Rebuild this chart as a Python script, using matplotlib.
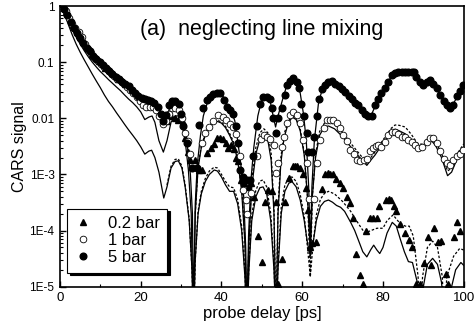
import numpy as np
import matplotlib
matplotlib.use("Agg")
import matplotlib.pyplot as plt
from matplotlib.ticker import FixedLocator, NullFormatter, LogLocator

plt.rcParams['font.family'] = ['Liberation Sans', 'DejaVu Sans']

# measured data: 5 bar (filled circles)
x5 = [1.0, 1.8, 2.6, 3.4, 4.2, 5.0, 5.8, 6.6, 7.4, 8.2, 9.0, 9.8, 10.6, 11.4, 12.2, 13.0, 13.8, 14.6,
      15.4, 16.2, 17.0, 17.8, 18.6, 19.4, 20.2, 21.0, 21.8, 22.6, 23.4, 24.2, 25.0, 25.6, 26.2, 27.0,
      27.8, 28.6, 29.5, 30.0, 30.5, 31.4, 32.6, 33.9, 34.5, 35.3, 36.3, 37.1, 37.9, 38.8, 39.6, 40.5,
      41.3, 42.1, 42.9, 43.7, 44.2, 44.6, 45.4, 46.2, 47.1, 47.9, 48.7, 49.5, 50.4, 51.2, 52.0, 52.4,
      52.8, 53.5, 54.1, 55.0, 55.7, 56.2, 57.0, 57.8, 58.7, 59.3, 59.8, 60.5, 61.1, 61.5, 62.4, 62.8,
      63.6, 64.1, 64.9, 65.7, 66.5, 67.3, 68.2, 69.0, 69.8, 70.6, 71.5, 72.3, 73.1, 73.9, 74.8, 75.6,
      76.4, 77.2, 78.0, 78.8, 79.6, 80.5, 81.3, 82.2, 83.0, 83.8, 84.6, 85.5, 86.3, 87.1, 87.8, 88.3,
      89.2, 90.0, 90.8, 91.6, 92.5, 93.3, 94.1, 95.0, 95.8, 96.6, 97.4, 98.3, 99.1, 99.8]
y5 = [0.9, 0.68, 0.52, 0.41, 0.33, 0.27, 0.22, 0.18, 0.155, 0.13, 0.115, 0.1, 0.088, 0.078, 0.07, 0.062,
      0.055, 0.05, 0.045, 0.041, 0.037, 0.032, 0.028, 0.025, 0.023, 0.022, 0.021, 0.02, 0.019, 0.016,
      0.012, 0.0088, 0.0115, 0.017, 0.02, 0.02, 0.018, 0.012, 0.0073, 0.0037, 0.0013, 0.0013, 0.0076,
      0.015, 0.021, 0.024, 0.027, 0.028, 0.028, 0.021, 0.016, 0.014, 0.012, 0.0073, 0.0037, 0.0012,
      9e-4, 8e-4, 8e-4, 0.0021, 0.0073, 0.018, 0.024, 0.024, 0.022, 0.015, 0.01, 0.0054, 0.01, 0.015,
      0.026, 0.039, 0.047, 0.052, 0.044, 0.034, 0.018, 0.011, 0.0054, 0.0025, 0.0025, 0.0047, 0.011,
      0.022, 0.033, 0.039, 0.044, 0.046, 0.041, 0.037, 0.033, 0.029, 0.025, 0.022, 0.019, 0.017, 0.014,
      0.012, 0.011, 0.011, 0.017, 0.022, 0.028, 0.034, 0.044, 0.058, 0.063, 0.066, 0.066, 0.066, 0.066,
      0.066, 0.068, 0.055, 0.044, 0.039, 0.044, 0.048, 0.041, 0.034, 0.026, 0.02, 0.017, 0.015, 0.017,
      0.025, 0.031, 0.039]

# measured data: 1 bar (open circles)
x1 = [1.4, 2.2, 3.0, 3.8, 4.6, 5.4, 6.2, 7.0, 7.8, 8.6, 9.4, 10.2, 11.0, 11.8, 12.6, 13.4, 14.2, 15.0,
      15.8, 16.6, 17.4, 18.2, 19.0, 19.8, 20.6, 21.4, 22.2, 23.0, 23.8, 24.6, 25.4, 26.2, 27.0, 27.8,
      28.6, 29.4, 30.2, 31.0, 31.8, 32.2, 35.1, 36.0, 36.8, 38.0, 39.1, 40.3, 41.1, 42.0, 42.9, 43.7,
      44.5, 45.4, 46.0, 46.4, 47.4, 48.7, 49.8, 50.5, 51.3, 52.1, 52.9, 53.5, 54.1, 55.0, 55.4, 56.2,
      57.0, 57.8, 58.7, 59.5, 60.3, 61.1, 61.8, 62.8, 63.6, 64.4, 65.3, 66.1, 66.9, 67.7, 68.6, 69.4,
      70.2, 71.0, 71.9, 72.7, 73.6, 74.4, 75.2, 76.0, 76.8, 77.6, 78.3, 78.8, 79.6, 80.5, 81.3, 82.2,
      83.0, 83.8, 84.6, 85.5, 86.3, 87.1, 87.9, 88.8, 89.6, 90.8, 91.6, 92.5, 93.3, 94.1, 95.0, 95.8,
      96.6, 97.4, 98.3, 99.1, 99.8]
y1 = [0.8, 0.6, 0.47, 0.4, 0.34, 0.28, 0.21, 0.17, 0.145, 0.12, 0.105, 0.093, 0.082, 0.072, 0.064,
      0.057, 0.051, 0.046, 0.041, 0.036, 0.032, 0.028, 0.024, 0.02, 0.017, 0.016, 0.016, 0.016, 0.014,
      0.011, 0.008, 0.009, 0.012, 0.015, 0.015, 0.014, 0.01, 0.0055, 0.0039, 0.0023, 0.0036, 0.0054,
      0.007, 0.0091, 0.0114, 0.0106, 0.0093, 0.008, 0.007, 0.0053, 0.0021, 5.3e-4, 3.5e-4, 2e-4, 4.6e-4,
      0.0021, 0.0042, 0.005, 0.0047, 0.0042, 0.0034, 0.00105, 0.0016, 0.0031, 0.0047, 0.0082, 0.0115,
      0.013, 0.0115, 0.0082, 0.0041, 0.0016, 3.7e-4, 3.7e-4, 0.0016, 0.0041, 0.0066, 0.0094, 0.0095,
      0.0094, 0.0082, 0.0066, 0.005, 0.004, 0.0027, 0.0023, 0.0018, 0.0017, 0.0018, 0.0019, 0.0026,
      0.0029, 0.0032, 0.0033, 0.0031, 0.0038, 0.005, 0.0057, 0.0057, 0.0053, 0.0047, 0.0047, 0.0041,
      0.0038, 0.0034, 0.0029, 0.0031, 0.0038, 0.0045, 0.0044, 0.0036, 0.0026, 0.0019, 0.0016, 0.0015,
      0.0018, 0.0021, 0.0023, 0.0027]

# measured data: 0.2 bar (triangles)
x02 = [1.6, 3.2, 4.8, 6.4, 8.0, 9.6, 11.2, 12.8, 14.4, 16.0, 17.6, 19.2, 20.8, 22.4, 24.0, 25.2, 26.4,
       27.4, 28.4, 29.3, 30.4, 31.0, 31.6, 32.2, 33.4, 34.4, 35.2, 36.3, 37.5, 38.2, 38.8, 39.6, 40.4,
       41.1, 41.6, 42.4, 43.0, 43.6, 44.2, 44.8, 45.6, 46.5, 47.3, 48.0, 49.0, 50.0, 50.7, 51.6, 52.4,
       53.6, 54.0, 55.1, 55.7, 56.8, 57.6, 58.2, 58.8, 59.4, 60.1, 61.0, 61.5, 61.9, 62.5, 63.5, 65.0,
       65.6, 66.3, 67.0, 67.7, 68.3, 69.3, 70.2, 71.0, 71.8, 72.6, 73.4, 74.3, 75.1, 75.9, 76.7, 77.5,
       78.4, 79.0, 80.7, 81.4, 82.1, 82.7, 83.3, 84.3, 85.4, 86.5, 87.3, 88.3, 89.1, 90.1, 91.2, 92.0,
       92.7, 93.6, 94.4, 95.7, 96.2, 97.5, 98.3, 99.2]
y02 = [0.78, 0.45, 0.3, 0.2, 0.14, 0.105, 0.08, 0.064, 0.051, 0.041, 0.033, 0.026, 0.021, 0.019, 0.016,
       0.011, 0.009, 0.011, 0.01, 0.0095, 0.0085, 0.0045, 0.0025, 0.0018, 0.0018, 0.0012, 0.0012, 0.0024,
       0.003, 0.0035, 0.0044, 0.0045, 0.0042, 0.0037, 0.003, 0.0033, 0.0028, 0.002, 0.0017, 8e-4, 7e-4,
       6e-4, 7e-4, 4e-4, 8e-5, 2.8e-5, 3.2e-4, 5.3e-4, 5e-4, 3.2e-4, 1.1e-5, 3.1e-5, 3.2e-4, 8.5e-4,
       1.4e-3, 1.4e-3, 1.4e-3, 1.3e-3, 1e-3, 5.7e-4, 2.3e-4, 5.2e-5, 6e-5, 6.3e-5, 5.4e-4, 1e-3, 1.05e-3,
       1e-3, 1e-3, 8.3e-4, 7e-4, 5.8e-4, 4e-4, 3.1e-4, 1.7e-4, 3.9e-5, 1.6e-5, 1.1e-5, 1e-4, 1.7e-4,
       1.7e-4, 1.7e-4, 2.7e-4, 3.5e-4, 3.6e-4, 3.5e-4, 2.7e-4, 2.2e-4, 1.3e-4, 9.2e-5, 6.8e-5, 5e-5,
       1.1e-5, 1.1e-5, 2.6e-5, 7.7e-5, 2.4e-5, 1.1e-4, 6.3e-5, 6.5e-5, 1.7e-5, 1.1e-5, 7.7e-5, 1.4e-4,
       1e-4]

# model curves (solid / dotted)
m5_x = [0, 1, 2, 3, 4, 5, 6, 7, 8, 9, 10, 11, 12, 13, 14, 15, 16, 17, 18, 19, 20, 21, 22, 23, 24, 25,
        25.7, 26.5, 27.5, 28.5, 29.5, 30.5, 31.5, 32.3, 32.8, 33.1, 33.5, 34, 34.8, 35.5, 36.5, 37.5,
        38.5, 39.5, 40.5, 41.5, 42.5, 43.3, 44, 44.8, 45.5, 46, 46.3, 46.7, 47.3, 48, 49, 50, 51, 52,
        52.8, 53.4, 54, 55, 56, 57, 57.8, 58.7, 59.5, 60.3, 61, 61.6, 62, 62.4, 63, 64, 65, 66, 67, 68,
        70, 72, 74, 76, 77, 78, 80, 82, 84, 86, 87.5, 89, 90, 91.5, 93, 94.5, 96, 97, 98.5, 100]
m5_y = [1.0, 0.85, 0.62, 0.46, 0.35, 0.27, 0.21, 0.17, 0.14, 0.115, 0.097, 0.083, 0.071, 0.062, 0.054,
        0.047, 0.041, 0.036, 0.031, 0.027, 0.024, 0.022, 0.021, 0.02, 0.017, 0.012, 0.0085, 0.011, 0.018,
        0.021, 0.019, 0.009, 0.0035, 0.001, 2e-4, 3e-6, 3e-4, 1.5e-3, 5e-3, 0.011, 0.019, 0.025, 0.028,
        0.029, 0.024, 0.017, 0.013, 0.009, 0.004, 0.0015, 4e-4, 5e-5, 3e-6, 8e-5, 8e-4, 3e-3, 0.011,
        0.022, 0.025, 0.021, 0.011, 0.007, 0.011, 0.02, 0.035, 0.048, 0.053, 0.045, 0.028, 0.012, 0.004,
        6e-4, 5e-5, 6e-4, 0.004, 0.018, 0.034, 0.043, 0.046, 0.042, 0.032, 0.023, 0.016, 0.011, 0.011,
        0.016, 0.031, 0.055, 0.065, 0.066, 0.068, 0.046, 0.04, 0.047, 0.035, 0.024, 0.016, 0.016, 0.025,
        0.038]

m1_x = [0, 1, 2, 3, 4, 5, 6, 7, 8, 9, 10, 11, 12, 13, 14, 15, 16, 17, 18, 19, 20, 21, 22, 22.8, 23.5,
        24.5, 25.6, 26.5, 27.5, 28.5, 29.3, 30.2, 31, 31.8, 32.5, 33, 33.5, 34.2, 35, 36, 37, 38, 39, 40,
        41, 42, 43, 44, 45, 45.8, 46.3, 46.8, 47.5, 48.5, 49.5, 50.5, 51.5, 52.3, 53, 53.5, 54, 54.7,
        55.5, 56.5, 57.5, 58.5, 59.5, 60.5, 61.3, 62, 62.5, 63.3, 64.3, 65.5, 66.5, 68, 70, 72, 74, 76,
        77, 78, 80, 82, 83, 84, 85.5, 87, 88.5, 90, 91, 92, 93, 94.5, 96, 97, 98.5, 100]
m1_y = [1.0, 0.8, 0.55, 0.38, 0.28, 0.21, 0.16, 0.125, 0.1, 0.082, 0.068, 0.058, 0.049, 0.042, 0.036,
        0.031, 0.026, 0.022, 0.019, 0.016, 0.013, 0.0095, 0.0105, 0.011, 0.0085, 0.004, 0.0025, 0.004,
        0.0085, 0.011, 0.011, 0.008, 0.004, 0.0012, 2e-4, 2e-6, 2e-4, 1.3e-3, 3e-3, 5e-3, 7e-3, 8.3e-3,
        8.8e-3, 8.2e-3, 6.8e-3, 5e-3, 3.5e-3, 1.8e-3, 5e-4, 6e-5, 2e-6, 6e-5, 6e-4, 2.3e-3, 4.2e-3,
        4.8e-3, 4e-3, 1.8e-3, 2e-4, 2e-6, 2e-4, 1.6e-3, 4.5e-3, 8e-3, 0.0105, 0.0095, 6e-3, 2.2e-3, 4e-4,
        4e-5, 4e-4, 2e-3, 5e-3, 7e-3, 7.3e-3, 6.5e-3, 4.7e-3, 3.1e-3, 2.1e-3, 1.45e-3, 1.8e-3, 2.2e-3,
        3.6e-3, 5.8e-3, 6.4e-3, 6e-3, 5.3e-3, 4e-3, 3e-3, 3e-3, 3.7e-3, 4e-3, 3.3e-3, 2e-3, 9.5e-4,
        1.1e-3, 2e-3, 3e-3]
d1_x = [33.5, 34.2, 35, 36, 37, 38, 39, 40, 41, 42, 43, 44, 45, 45.8, 46.3, 46.8, 47.5, 48.5, 49.5,
        50.5, 51.5, 52.3, 53, 53.5, 54, 54.7, 55.5, 56.5, 57.5, 58.5, 59.5, 60.5, 61.3, 62, 62.5, 63.3,
        64.3, 65.5, 66.5, 68, 70, 72, 74, 76, 77, 78, 80, 82, 83, 84, 85.5, 87, 88.5, 90, 91, 92, 93,
        94.5, 96, 97, 98.5, 100]
d1_y = [2e-4, 1.4e-3, 3.2e-3, 5.3e-3, 7.4e-3, 8.7e-3, 9.2e-3, 8.6e-3, 7.2e-3, 5.4e-3, 3.8e-3, 2e-3,
        6e-4, 7e-5, 2e-6, 7e-5, 8e-4, 3e-3, 5.5e-3, 6.5e-3, 5.5e-3, 2.4e-3, 2.5e-4, 2e-6, 2.5e-4, 2e-3,
        5.2e-3, 8.8e-3, 0.0112, 0.0102, 6.5e-3, 2.4e-3, 4e-4, 1.5e-5, 4e-4, 2.3e-3, 5.8e-3, 8.2e-3,
        8.6e-3, 7.8e-3, 5.6e-3, 3.6e-3, 2.4e-3, 1.6e-3, 2e-3, 2.5e-3, 4.1e-3, 6.6e-3, 7.6e-3, 7.5e-3,
        7e-3, 5.2e-3, 3.6e-3, 3.4e-3, 4.2e-3, 4.6e-3, 3.8e-3, 2.4e-3, 1.15e-3, 1.3e-3, 2.4e-3, 3.5e-3]

m02_x = [0, 1, 2, 3, 4, 5, 6, 7, 8, 9, 10, 11, 12, 13, 14, 15, 16, 17, 18, 19, 20, 21, 22, 22.7, 23.5,
         24.5, 25.7, 26.5, 27.5, 28.5, 29.3, 30.2, 31, 32, 32.7, 33.1, 33.5, 34.2, 35, 36, 37, 38.2, 39,
         40, 41, 42, 43, 44, 45, 45.8, 46.3, 46.8, 47.5, 48.5, 49.5, 50.3, 51.2, 52.2, 53, 53.5, 54, 54.8,
         55.7, 56.7, 57.5, 58.5, 59.5, 60.5, 61.3, 62, 62.7, 63.5, 64.5, 65.5, 66.5, 67.5, 68.5, 69.5,
         70.5, 72, 73, 74, 75, 76, 77, 77.7, 78.5, 79.2, 80, 81, 82.3, 83.3, 84.3, 85.3, 86.3, 87.3, 88.5,
         89.3, 90, 91, 92.3, 93.5, 94.5, 95.5, 96.2, 97, 98, 99.3, 100]
m02_y = [1.0, 0.75, 0.48, 0.31, 0.21, 0.15, 0.11, 0.082, 0.061, 0.046, 0.035, 0.026, 0.02, 0.016, 0.0125,
         0.0099, 0.0078, 0.0062, 0.005, 0.004, 0.0031, 0.0023, 0.0026, 0.0027, 0.002, 0.0011, 3.8e-4,
         6e-4, 1.3e-3, 1.7e-3, 1.75e-3, 1.3e-3, 6e-4, 1.5e-4, 2e-5, 2e-6, 3e-5, 2e-4, 4.5e-4, 7.5e-4,
         1e-3, 1.2e-3, 1.15e-3, 9e-4, 6.5e-4, 5e-4, 5e-4, 3e-4, 1e-4, 1.5e-5, 2e-6, 2e-5, 1.5e-4, 4e-4,
         5.8e-4, 6e-4, 4.5e-4, 1.5e-4, 2e-5, 2e-6, 2e-5, 2e-4, 5e-4, 7e-4, 7.4e-4, 6e-4, 3.5e-4, 1.5e-4,
         6e-5, 3.5e-5, 6e-5, 1.5e-4, 2.7e-4, 3.3e-4, 3.5e-4, 3.2e-4, 2.8e-4, 2.6e-4, 2.2e-4, 1.4e-4, 1e-4,
         6.5e-5, 4.2e-5, 3.4e-5, 4.6e-5, 5.5e-5, 4.5e-5, 3.9e-5, 5e-5, 9e-5, 1.4e-4, 1.2e-4, 7e-5, 4.2e-5,
         2.8e-5, 2.7e-5, 1.2e-5, 2e-6, 1e-5, 2.5e-5, 3.2e-5, 2.5e-5, 1.2e-5, 2e-6, 2e-6, 1e-5, 2e-5,
         2.7e-5, 2.4e-5]
d02_x = [26.5, 27.5, 28.5, 29.3, 30.2, 31, 32, 32.7, 33.1, 33.5, 34.2, 35, 36, 37, 38.2, 39, 40, 41, 42,
         43, 44, 45, 45.8, 46.3, 46.8, 47.5, 48.5, 49.5, 50.3, 51.2, 52.2, 53, 53.5, 54, 54.8, 55.7,
         56.7, 57.5, 58.5, 59.5, 60.5, 61.3, 62, 62.7, 63.5, 64.5, 65.5, 66.5, 68, 70, 72, 74, 75.5, 77,
         78.5, 80, 81, 82.5, 84, 85.5, 86.5, 87.5, 88.7, 89.2, 89.8, 91, 92.3, 93.5, 94.7, 95.2, 95.8,
         97.5, 99, 100]
d02_y = [6.5e-4, 1.4e-3, 1.85e-3, 1.9e-3, 1.4e-3, 6.5e-4, 1.6e-4, 2e-5, 2e-6, 3e-5, 2.2e-4, 5e-4,
         8.5e-4, 1.15e-3, 1.35e-3, 1.3e-3, 1e-3, 7.5e-4, 6e-4, 5.8e-4, 3.6e-4, 1.2e-4, 1.8e-5, 2e-6,
         2.5e-5, 1.9e-4, 5.2e-4, 7.6e-4, 8e-4, 6e-4, 2e-4, 2.5e-5, 2e-6, 2.5e-5, 2.6e-4, 6.5e-4, 8.8e-4,
         9e-4, 7.5e-4, 4.4e-4, 1.8e-4, 5e-5, 1.5e-5, 6e-5, 1.9e-4, 3.6e-4, 4.6e-4, 5e-4, 4.5e-4, 3.3e-4,
         2.2e-4, 1.3e-4, 9e-5, 1e-4, 1.1e-4, 1.1e-4, 1.5e-4, 1.9e-4, 1.4e-4, 1.2e-4, 1.2e-4, 8e-5, 1.5e-5,
         2e-6, 1.5e-5, 5e-5, 6.5e-5, 5e-5, 1.5e-5, 2e-6, 1.5e-5, 3.5e-5, 4.8e-5, 4.5e-5]

fig = plt.figure(figsize=(4.74, 3.27), dpi=100)
ax = fig.add_axes([0.1266, 0.1232, 0.8517, 0.8584])

lw = 0.9
ax.plot(m5_x, m5_y, '-', color='k', lw=lw, zorder=2)
ax.plot(m1_x, m1_y, '-', color='k', lw=lw, zorder=2)
ax.plot(d1_x, d1_y, color='k', lw=lw, ls=(0, (2, 1.5)), zorder=2)
ax.plot(m02_x, m02_y, '-', color='k', lw=lw, zorder=2)
ax.plot(d02_x, d02_y, color='k', lw=lw, ls=(0, (2, 1.5)), zorder=2)

ms = 4.8
ax.plot(x02, y02, '^', color='k', ms=ms, ls='none', label='0.2 bar', zorder=3)
ax.plot(x1, y1, 'o', mfc='white', mec='k', mew=0.6, ms=ms, ls='none', label='1 bar', zorder=4)
ax.plot(x5, y5, 'o', color='k', ms=ms, ls='none', label='5 bar', zorder=5)

ax.set_yscale('log')
ax.set_xlim(0, 100)
ax.set_ylim(1e-5, 1)

ax.set_xticks([0, 20, 40, 60, 80, 100])
ax.set_xticks([10, 30, 50, 70, 90], minor=True)
ax.set_xticklabels(['0', '20', '40', '60', '80', '100'], fontsize=9.5)
ax.yaxis.set_major_locator(FixedLocator([1e-5, 1e-4, 1e-3, 1e-2, 1e-1, 1]))
ax.set_yticklabels(['1E-5', '1E-4', '1E-3', '0.01', '0.1', '1'], fontsize=8.5)
ax.yaxis.set_minor_locator(LogLocator(base=10, subs=np.arange(2, 10), numticks=20))
ax.yaxis.set_minor_formatter(NullFormatter())

ax.tick_params(which='both', direction='in', top=False, right=False)
ax.tick_params(which='major', length=4, width=1, pad=4)
ax.tick_params(which='minor', length=2.5, width=0.8)
for s in ax.spines.values():
    s.set_linewidth(1.2)

ax.set_xlabel('probe delay [ps]', fontsize=12, labelpad=1)
ax.set_ylabel('CARS signal', fontsize=11.5, labelpad=2)
ax.text(0.5, 0.915, '(a)  neglecting line mixing', transform=ax.transAxes,
        ha='center', va='center', fontsize=15.5)

leg = ax.legend(loc='lower left', bbox_to_anchor=(0.017, 0.05), borderaxespad=0,
                fontsize=12, frameon=True, fancybox=False, edgecolor='k',
                shadow={'color': 'k', 'alpha': 1}, handlelength=1.0,
                handletextpad=1.0, labelspacing=0.12, borderpad=0.45)
leg.get_frame().set_linewidth(0.8)
leg.get_frame().set_alpha(1)

fig.savefig('out.png', dpi=100)
